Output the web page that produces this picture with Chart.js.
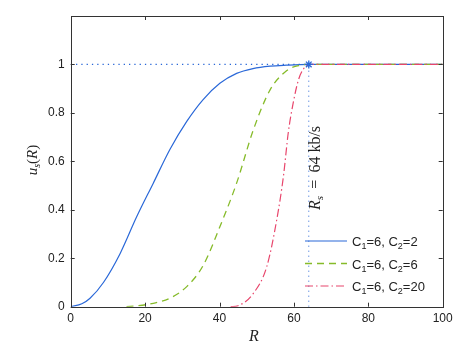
<!DOCTYPE html>
<html><head><meta charset="utf-8">
<script src="https://cdn.jsdelivr.net/npm/chart.js@4.4.1/dist/chart.umd.min.js"></script>
<style>html,body{margin:0;padding:0;background:#fff}canvas{display:block}</style>
</head><body>
<canvas id="c" width="474" height="353"></canvas>
<script>
// ---- data ----
const xTicks = [0, 20, 40, 60, 80, 100];
const yTicks = [0, 0.2, 0.4, 0.6, 0.8, 1];
const seriesLabels = ['C1=6, C2=2', 'C1=6, C2=6', 'C1=6, C2=20'];
const blueR = [0, 3, 5.2, 8.8, 13.3, 17.7, 22.2, 26.7, 31.2, 35.6, 40.1, 44.6, 49, 53.6, 58, 64, 70, 80, 90, 100];
const blueU = [0, 0.012, 0.035, 0.10, 0.22, 0.37, 0.51, 0.65, 0.765, 0.855, 0.922, 0.963, 0.983, 0.993, 0.997, 1, 1, 1, 1, 1];
const greenR = [15, 18, 22.2, 26.7, 31.2, 35.6, 40.1, 44.6, 49.1, 53.6, 58.1, 61.2, 64, 70, 80, 90, 100];
const greenU = [0, 0.004, 0.014, 0.035, 0.083, 0.17, 0.33, 0.51, 0.73, 0.895, 0.975, 0.995, 1, 1, 1, 1, 1];
const redR = [43, 45, 49.1, 52.7, 55.4, 57.2, 58.5, 59.8, 61.2, 62.5, 64, 70, 80, 90, 100];
const redU = [0, 0.004, 0.055, 0.165, 0.36, 0.54, 0.72, 0.84, 0.935, 0.98, 1, 1, 1, 1, 1];
const markR = 64;   // R_s
const markU = 1;
const annotation = 'R_s = 64 kb/s';

const BLUE = '#2a68d8', GREEN = '#86bb2a', RED = '#e8466c';
const zip = (xs, ys) => xs.map((x, i) => ({x, y: ys[i]}));

function drawRuns(ctx, runs, x, y, align) {
  let w = 0;
  runs.forEach(r => { ctx.font = r.font; w += ctx.measureText(r.t).width; });
  let cx = align === 'center' ? x - w / 2 : x;
  runs.forEach(r => {
    ctx.font = r.font;
    ctx.fillText(r.t, cx, y + (r.dy || 0));
    cx += ctx.measureText(r.t).width;
  });
}

const decor = {
  id: 'decor',
  afterDatasetsDraw(chart) {
    const {ctx, chartArea: a, scales: {x, y}} = chart;
    ctx.save();
    // box
    ctx.strokeStyle = '#333'; ctx.lineWidth = 1;
    ctx.strokeRect(Math.round(a.left) + 0.5, Math.round(a.top) + 0.5, Math.round(a.right - a.left), Math.round(a.bottom - a.top));
    // inward ticks
    ctx.beginPath();
    xTicks.forEach(v => {
      const px = Math.round(x.getPixelForValue(v)) + 0.5;
      ctx.moveTo(px, a.bottom); ctx.lineTo(px, a.bottom - 4);
      ctx.moveTo(px, a.top); ctx.lineTo(px, a.top + 4);
    });
    yTicks.forEach(v => {
      const py = Math.round(y.getPixelForValue(v)) + 0.5;
      ctx.moveTo(a.left, py); ctx.lineTo(a.left + 4, py);
      ctx.moveTo(a.right, py); ctx.lineTo(a.right - 4, py);
    });
    ctx.stroke();

    // legend
    const ds = chart.data.datasets;
    const rows = [241, 263.5, 286];
    for (let i = 0; i < 3; i++) {
      const d = ds[i];
      ctx.strokeStyle = d.borderColor; ctx.lineWidth = d.borderWidth;
      ctx.setLineDash(d.borderDash || []);
      ctx.beginPath(); ctx.moveTo(305, rows[i]); ctx.lineTo(347, rows[i]); ctx.stroke();
      ctx.setLineDash([]);
      ctx.fillStyle = '#222'; ctx.textBaseline = 'alphabetic'; ctx.textAlign = 'left';
      const parts = seriesLabels[i].match(/C(\d)=(\d+), C(\d)=(\d+)/);
      const F = '13px "Liberation Sans", Arial, sans-serif', S = '9px "Liberation Sans", Arial, sans-serif';
      drawRuns(ctx, [
        {t: 'C', font: F}, {t: parts[1], font: S, dy: 3}, {t: '=' + parts[2] + ', C', font: F},
        {t: parts[3], font: S, dy: 3}, {t: '=' + parts[4], font: F}
      ], 352, rows[i] + 5, 'left');
    }

    // annotation, rotated
    ctx.fillStyle = '#222';
    ctx.save();
    ctx.translate(x.getPixelForValue(markR) + 11.5, 168);
    ctx.rotate(-Math.PI / 2);
    const m = annotation.match(/(\w)_(\w)(.*)/);
    drawRuns(ctx, [
      {t: m[1], font: 'italic 16px "Liberation Serif", serif'},
      {t: m[2], font: 'italic 11px "Liberation Serif", serif', dy: 3},
      {t: m[3].replace(' = ', '\u2009 = \u2009'), font: '16px "Liberation Serif", serif'}
    ], 0, 0, 'center');
    ctx.restore();

    // y title
    ctx.save();
    ctx.translate(37, 160);
    ctx.rotate(-Math.PI / 2);
    drawRuns(ctx, [
      {t: 'u', font: 'italic 15px "Liberation Serif", serif'},
      {t: 's', font: 'italic 10px "Liberation Serif", serif', dy: 3},
      {t: '(', font: '15px "Liberation Serif", serif'},
      {t: 'R', font: 'italic 15px "Liberation Serif", serif'},
      {t: ')', font: '15px "Liberation Serif", serif'}
    ], 0, 0, 'center');
    ctx.restore();

    // x title
    drawRuns(ctx, [{t: 'R', font: 'italic 16px "Liberation Serif", serif'}], 254, 341, 'center');
    ctx.restore();
  }
};

new Chart(document.getElementById('c'), {
  type: 'line',
  data: {
    datasets: [
      {label: seriesLabels[0], data: zip(blueR, blueU), borderColor: BLUE, borderWidth: 1.2, pointRadius: 0, cubicInterpolationMode: 'monotone', order: 3},
      {label: seriesLabels[1], data: zip(greenR, greenU), borderColor: GREEN, borderWidth: 1.3, borderDash: [7, 5], pointRadius: 0, cubicInterpolationMode: 'monotone', order: 2},
      {label: seriesLabels[2], data: zip(redR, redU), borderColor: RED, borderWidth: 1.2, borderDash: [8, 3, 1.5, 3], pointRadius: 0, cubicInterpolationMode: 'monotone', order: 1},
      {label: 'h', data: [{x: 0, y: markU}, {x: markR, y: markU}], borderColor: BLUE, borderWidth: 1.3, borderDash: [1.3, 4], pointRadius: 0, order: 4},
      {label: 'v', data: [{x: markR, y: 0}, {x: markR, y: markU}], borderColor: BLUE, borderWidth: 1, borderDash: [1, 4], pointRadius: 0, order: 4},
      {label: 'star', data: [{x: markR, y: markU}], borderColor: BLUE, backgroundColor: BLUE, showLine: false, pointStyle: 'star', pointRadius: 4, borderWidth: 1.3, order: 0}
    ]
  },
  options: {
    responsive: false, animation: false,
    layout: {padding: {left: 0, top: 16, right: 31.3, bottom: 0}},
    plugins: {legend: {display: false}, tooltip: {enabled: false}},
    scales: {
      x: {
        type: 'linear', min: 0, max: 100,
        afterFit: s => { s.height = 46.3; },
        afterBuildTicks: s => { s.ticks = xTicks.map(v => ({value: v})); },
        ticks: {padding: 5, color: '#222', font: {family: '"Liberation Sans", Arial, sans-serif', size: 12}, maxRotation: 0},
        grid: {display: false, drawTicks: false}, border: {display: false}
      },
      y: {
        type: 'linear', min: 0, max: 1.2,
        afterFit: s => { s.width = 70.7; },
        afterBuildTicks: s => { s.ticks = yTicks.map(v => ({value: v})); },
        ticks: {padding: 6, color: '#222', font: {family: '"Liberation Sans", Arial, sans-serif', size: 12},
          callback: v => String(Number(v.toFixed(1)))},
        grid: {display: false, drawTicks: false}, border: {display: false}
      }
    }
  },
  plugins: [decor]
});
</script>
</body></html>
